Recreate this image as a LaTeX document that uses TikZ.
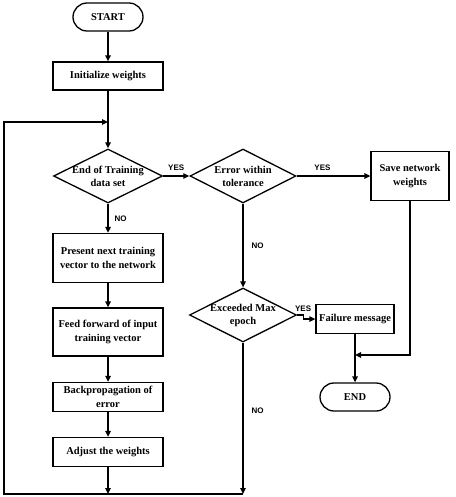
\documentclass[tikz,border=0pt]{standalone}
\usepackage{fontspec}
\setmainfont{Liberation Serif}
\newfontfamily\labelfont{Liberation Sans}
\usepackage{tikz}
\usetikzlibrary{arrows.meta, positioning, calc, shapes.geometric}
\tikzset{
  procbox/.style={draw, line width=1.3pt, align=center, inner sep=2pt,
    minimum width=110pt, font=\fontsize{10.5}{13.5}\selectfont\bfseries},
  terminal/.style={procbox, rounded corners=14pt, minimum width=70pt, minimum height=28pt},
  decision/.style={diamond, draw, line width=1.3pt, inner sep=0pt,
    minimum width=109pt, minimum height=54pt},
  dtext/.style={align=center, inner sep=0pt, font=\fontsize{10.5}{13}\selectfont\bfseries},
  arr/.style={-{Triangle[length=6pt,width=5.5pt]}, line width=1.3pt},
  lbl/.style={font=\labelfont\fontsize{8}{9}\selectfont\bfseries, inner sep=1pt}
}

\begin{document}
\begin{tikzpicture}[x=1pt, y=-1pt]
  \useasboundingbox (0,0) rectangle (455,497);

  % main column
  \node[terminal] (start) at (108,17) {START};
  \node[procbox, minimum height=28pt] (init) at (108,76) {Initialize weights};
  \node[decision, label={[dtext]center:{End of Training\\data set}}] (trainend) at (108,176) {};
  \node[procbox, minimum height=49pt] (present) at (108,258) {Present next training\\vector to the network};
  \node[procbox, minimum height=48pt] (feed) at (108,332) {Feed forward of input\\training vector};
  \node[procbox, minimum height=29pt] (backprop) at (108,397) {Backpropagation of\\error};
  \node[procbox, minimum height=29pt] (adjust) at (108,452) {Adjust the weights};

  % right part
  \node[decision, minimum width=106pt, label={[dtext]center:{Error within\\tolerance}}] (tolerance) at (243,176) {};
  \node[procbox, minimum width=78pt, minimum height=49pt] (save) at (410,176) {Save network\\weights};
  \node[decision, minimum width=107pt, label={[dtext]center:{Exceeded Max\\epoch}}] (maxepoch) at (243,315) {};
  \node[procbox, minimum width=78pt, minimum height=29pt] (failure) at (355,319) {Failure message};
  \node[terminal] (finish) at (355,397) {END};

  \coordinate (loopin) at (108,122);
  \coordinate (loopL) at (4,122);
  \coordinate (botL) at (4,494);
  \coordinate (botR) at (243,494);
  \coordinate (merge) at (355,355);

  % connectors
  \draw[arr] (start) -- (init);
  \draw[arr] (init) -- (trainend);
  \draw[arr] (trainend) -- node[lbl, right=5pt] {NO} (present);
  \draw[arr] (present) -- (feed);
  \draw[arr] (feed) -- (backprop);
  \draw[arr] (backprop) -- (adjust);
  \draw[arr] (adjust) -- (adjust |- botL);
  \draw[arr] (botR) -- (botL) -- (loopL) -- (loopin);

  \draw[arr] (trainend) -- node[lbl, above=4pt] {YES} (tolerance);
  \draw[arr] (tolerance) -- node[lbl, above=4pt, pos=0.35] {YES} (save);
  \draw[arr] (tolerance) -- node[lbl, right=7pt] {NO} (maxepoch);
  \draw[arr] (maxepoch) -- node[lbl, right=7pt, pos=0.45] {NO} (botR);
  \draw[arr] (maxepoch.east) -- ++(6,0) node[lbl, above=2pt] {YES} |- (failure.west);
  \draw[arr] (failure) -- (finish);
  \draw[arr] (save) |- (merge);
\end{tikzpicture}
\end{document}
